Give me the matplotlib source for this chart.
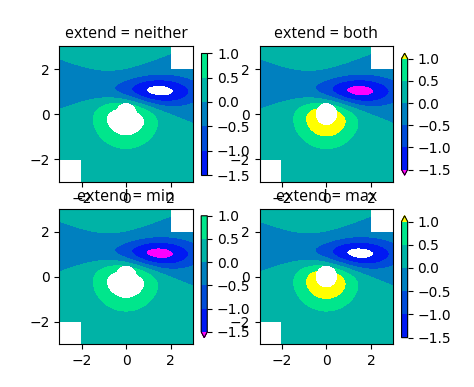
import numpy as np
import matplotlib
matplotlib.use("Agg")
import matplotlib.pyplot as plt

# Field definition (two bivariate normal bumps)
grid_range = [-3.0, 3.01]
grid_step = 0.025
bump1 = [1.0, 1.0, 0.0, 0.0]   # sigmax, sigmay, mux, muy
bump2 = [1.5, 0.5, 1.0, 1.0]
scale = 10.0
mask_radius = 0.5

levels = [-1.5, -1, -0.5, 0, 0.5, 1]
extends = ["neither", "both", "min", "max"]
titles = ["extend = %s" % e for e in extends]


def bivariate_normal(X, Y, sx, sy, mx, my):
    Xm = X - mx
    Ym = Y - my
    z = Xm**2 / sx**2 + Ym**2 / sy**2
    return np.exp(-z / 2) / (2 * np.pi * sx * sy)


x = y = np.arange(grid_range[0], grid_range[1], grid_step)
X, Y = np.meshgrid(x, y)
Z1 = bivariate_normal(X, Y, *bump1)
Z2 = bivariate_normal(X, Y, *bump2)
Z = scale * (Z1 - Z2)

nr, nc = Z.shape
Z[-nr // 6:, -nc // 6:] = np.nan
Z = np.ma.array(Z)
Z[:nr // 6, :nc // 6] = np.ma.masked
interior = np.sqrt(X**2 + Y**2) < mask_radius
Z[interior] = np.ma.masked

cmap = plt.get_cmap("winter").with_extremes(under="magenta", over="yellow")

fig, axs = plt.subplots(2, 2, figsize=(4.74, 3.87), dpi=100)
for ax, extend, title in zip(axs.ravel(), extends, titles):
    cs = ax.contourf(X, Y, Z, levels, cmap=cmap, extend=extend, origin="lower")
    fig.colorbar(cs, ax=ax, shrink=0.9)
    ax.set_title(title, family="Open Sans", fontsize=11.5)
    ax.locator_params(nbins=4)

fig.savefig("out.png", dpi=100)
